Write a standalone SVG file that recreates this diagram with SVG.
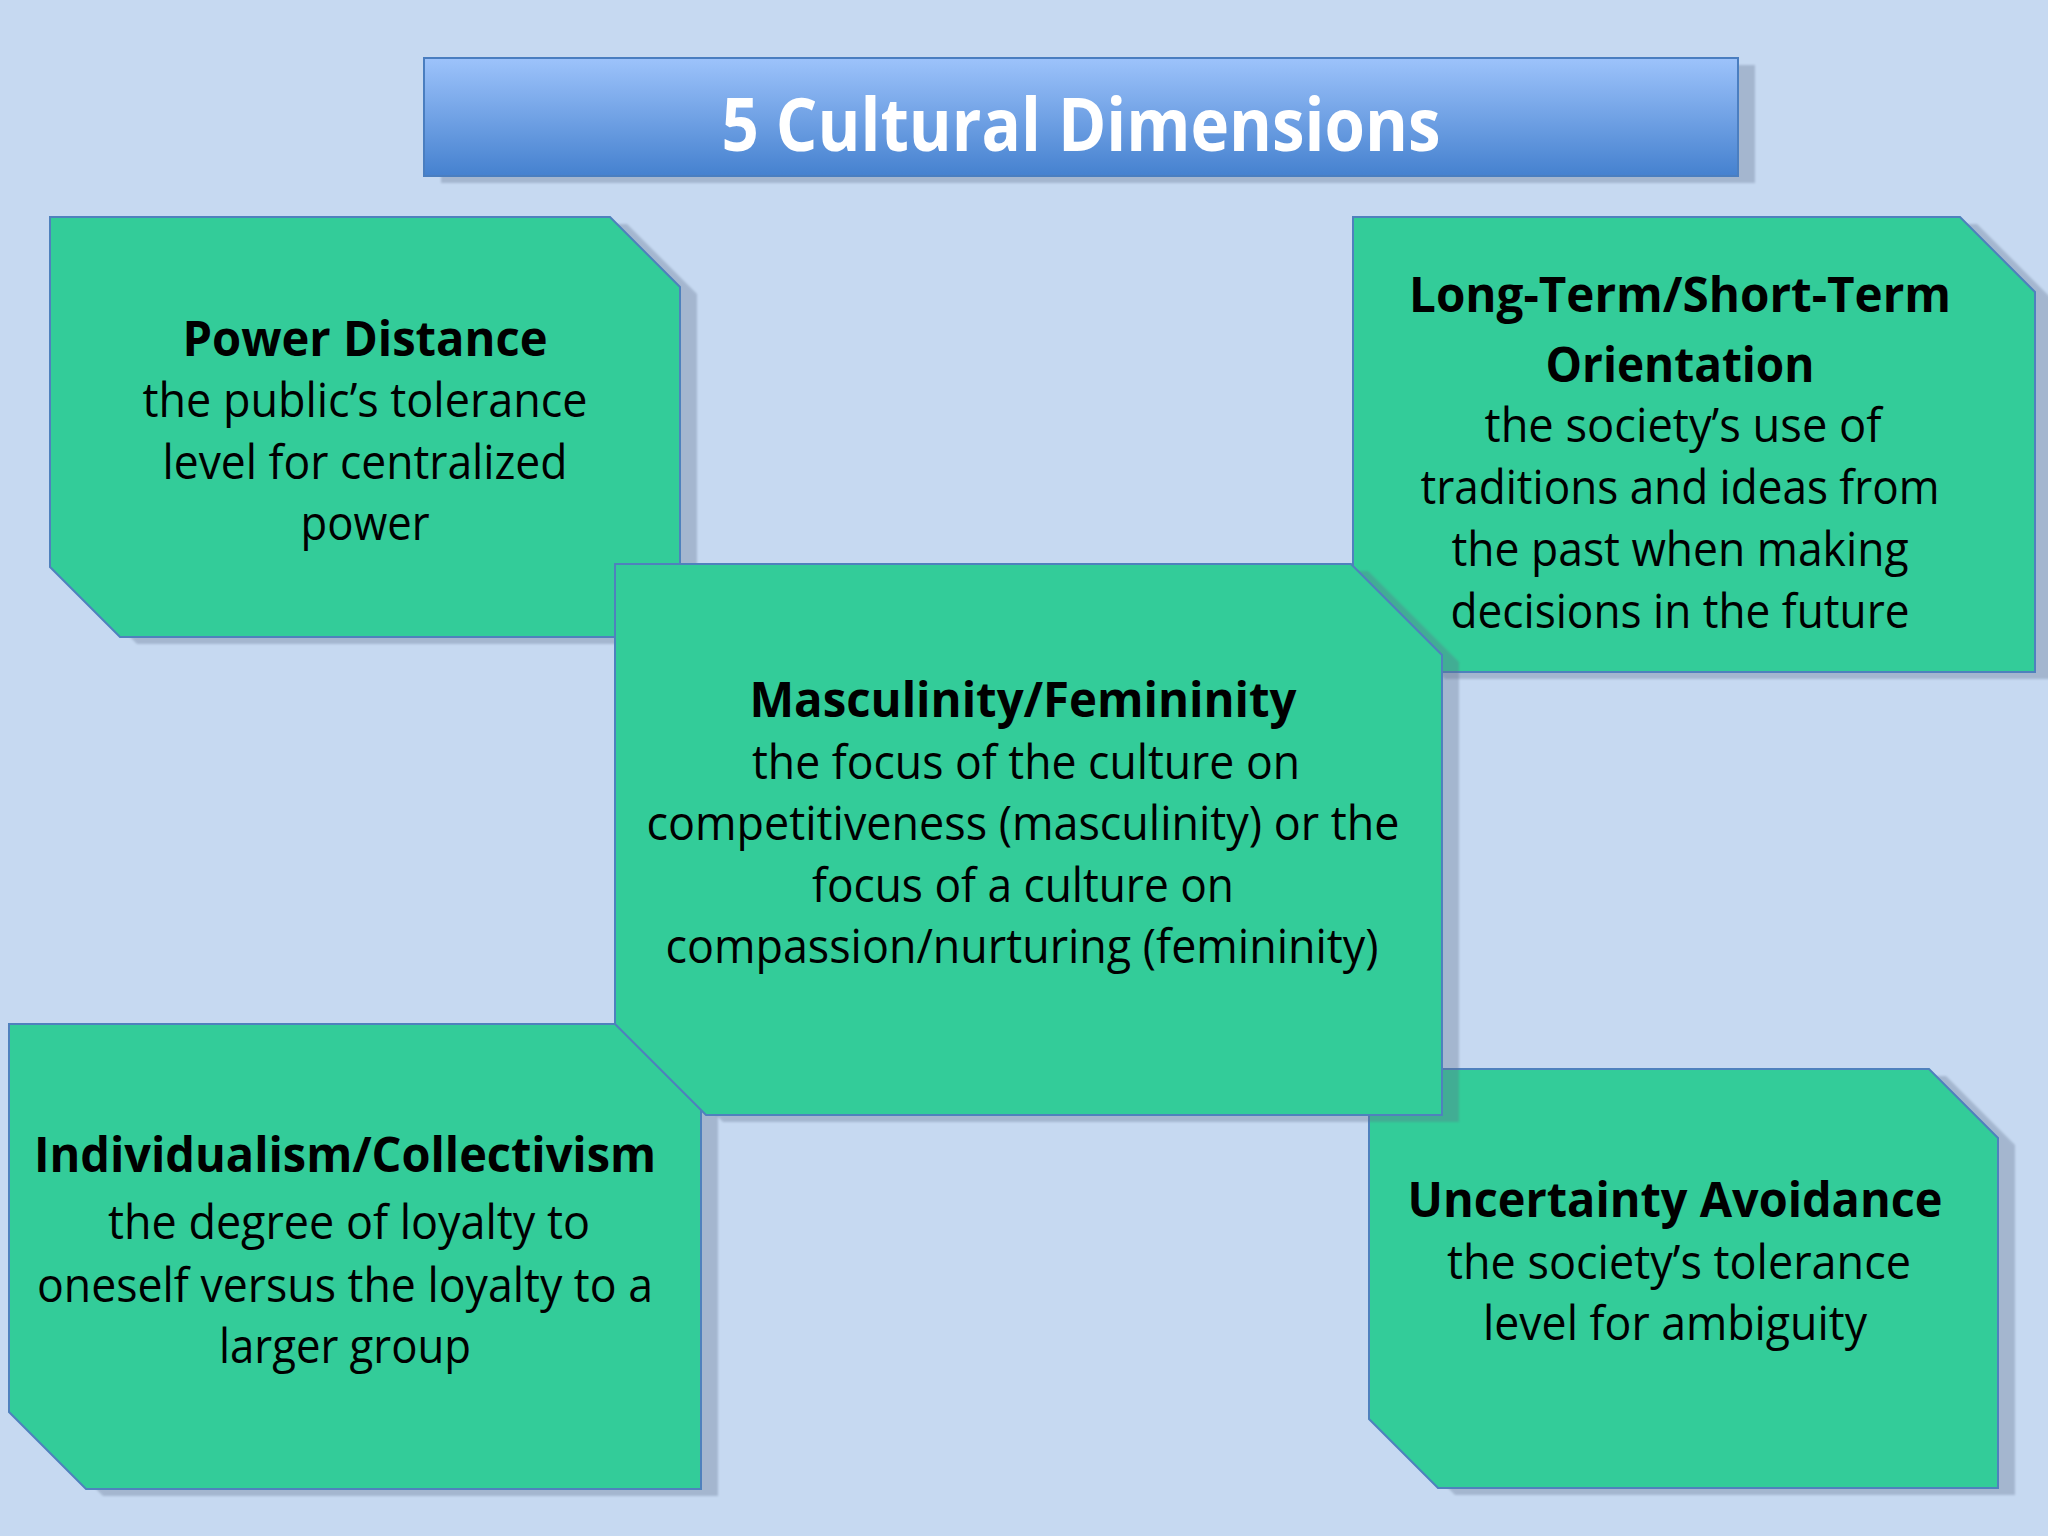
<svg xmlns="http://www.w3.org/2000/svg" width="2048" height="1536" viewBox="0 0 2048 1536">
  <defs>
    <linearGradient id="titleGrad" x1="0" y1="0" x2="0" y2="1">
      <stop offset="0" stop-color="#9DC3FB"/>
      <stop offset="1" stop-color="#4581CF"/>
    </linearGradient>
    <filter id="soft" x="-5%" y="-5%" width="110%" height="110%">
      <feGaussianBlur stdDeviation="1.2"/>
    </filter>
  </defs>
  <style>
    .bg { fill: #C6D9F1; }
    .shadow { fill: #5F6E8A; opacity: 0.32; filter: url(#soft); }
    .box { fill: #33CC99; stroke: #4F81BD; stroke-width: 2; }
    .title-bar { fill: url(#titleGrad); stroke: #4A7EC0; stroke-width: 2; }
    .title { font-family: "Open Sans", "Noto Sans", sans-serif; font-weight: 700; font-size: 74px; fill: #FFFFFF; text-anchor: middle; }
    .hd { font-family: "Open Sans", "Noto Sans", sans-serif; font-weight: 700; font-size: 48px; fill: #000000; text-anchor: middle; }
    .bd { font-family: "Open Sans", "Noto Sans", sans-serif; font-weight: 400; font-size: 47px; fill: #000000; text-anchor: middle; }
  </style>

  <rect class="bg" x="0" y="0" width="2048" height="1536"/>

  <g id="title">
    <rect class="shadow" x="441" y="65" width="1314" height="118"/>
    <rect class="title-bar" x="424" y="58" width="1314" height="118"/>
    <text class="title" x="1081" y="151" textLength="719" lengthAdjust="spacingAndGlyphs">5 Cultural Dimensions</text>
  </g>

  <g id="connectors"></g>

  <g id="power-distance">
    <path class="shadow" transform="translate(17,7)" d="M50,217 L610,217 L680,287 L680,637 L120,637 L50,567 Z"/>
    <path class="box" d="M50,217 L610,217 L680,287 L680,637 L120,637 L50,567 Z"/>
    <text class="hd" x="365" y="356" textLength="365" lengthAdjust="spacingAndGlyphs">Power Distance</text>
    <text class="bd" x="365" y="417" textLength="445" lengthAdjust="spacingAndGlyphs">the public’s tolerance</text>
    <text class="bd" x="365" y="479" textLength="405" lengthAdjust="spacingAndGlyphs">level for centralized</text>
    <text class="bd" x="365" y="540" textLength="129" lengthAdjust="spacingAndGlyphs">power</text>
  </g>

  <g id="long-short-term">
    <path class="shadow" transform="translate(17,7)" d="M1353,217 L1960,217 L2035,292 L2035,672 L1428,672 L1353,597 Z"/>
    <path class="box" d="M1353,217 L1960,217 L2035,292 L2035,672 L1428,672 L1353,597 Z"/>
    <text class="hd" x="1680" y="312" textLength="542" lengthAdjust="spacingAndGlyphs">Long-Term/Short-Term</text>
    <text class="hd" x="1680" y="382" textLength="269" lengthAdjust="spacingAndGlyphs">Orientation</text>
    <text class="bd" x="1683" y="442" textLength="397" lengthAdjust="spacingAndGlyphs">the society’s use of</text>
    <text class="bd" x="1680" y="504" textLength="519" lengthAdjust="spacingAndGlyphs">traditions and ideas from</text>
    <text class="bd" x="1680" y="566" textLength="457" lengthAdjust="spacingAndGlyphs">the past when making</text>
    <text class="bd" x="1680" y="628" textLength="459" lengthAdjust="spacingAndGlyphs">decisions in the future</text>
  </g>

  <g id="individualism-collectivism">
    <path class="shadow" transform="translate(17,7)" d="M9,1024 L624,1024 L701,1101 L701,1489 L86,1489 L9,1412 Z"/>
    <path class="box" d="M9,1024 L624,1024 L701,1101 L701,1489 L86,1489 L9,1412 Z"/>
    <text class="hd" x="345" y="1172" textLength="622" lengthAdjust="spacingAndGlyphs">Individualism/Collectivism</text>
    <text class="bd" x="349" y="1239" textLength="482" lengthAdjust="spacingAndGlyphs">the degree of loyalty to</text>
    <text class="bd" x="345" y="1302" textLength="616" lengthAdjust="spacingAndGlyphs">oneself versus the loyalty to a</text>
    <text class="bd" x="345" y="1363" textLength="252" lengthAdjust="spacingAndGlyphs">larger group</text>
  </g>

  <g id="uncertainty-avoidance">
    <path class="shadow" transform="translate(17,7)" d="M1369,1069 L1929,1069 L1998,1138 L1998,1488 L1438,1488 L1369,1419 Z"/>
    <path class="box" d="M1369,1069 L1929,1069 L1998,1138 L1998,1488 L1438,1488 L1369,1419 Z"/>
    <text class="hd" x="1675" y="1217" textLength="535" lengthAdjust="spacingAndGlyphs">Uncertainty Avoidance</text>
    <text class="bd" x="1679" y="1279" textLength="464" lengthAdjust="spacingAndGlyphs">the society’s tolerance</text>
    <text class="bd" x="1675" y="1340" textLength="384" lengthAdjust="spacingAndGlyphs">level for ambiguity</text>
  </g>

  <g id="masculinity-femininity">
    <path class="shadow" transform="translate(17,7)" d="M615,564 L1351,564 L1442,655 L1442,1115 L706,1115 L615,1024 Z"/>
    <path class="box" d="M615,564 L1351,564 L1442,655 L1442,1115 L706,1115 L615,1024 Z"/>
    <text class="hd" x="1023" y="717" textLength="547" lengthAdjust="spacingAndGlyphs">Masculinity/Femininity</text>
    <text class="bd" x="1026" y="779" textLength="548" lengthAdjust="spacingAndGlyphs">the focus of the culture on</text>
    <text class="bd" x="1023" y="840" textLength="753" lengthAdjust="spacingAndGlyphs">competitiveness (masculinity) or the</text>
    <text class="bd" x="1023" y="902" textLength="422" lengthAdjust="spacingAndGlyphs">focus of a culture on</text>
    <text class="bd" x="1022" y="963" textLength="713" lengthAdjust="spacingAndGlyphs">compassion/nurturing (femininity)</text>
  </g>
</svg>
